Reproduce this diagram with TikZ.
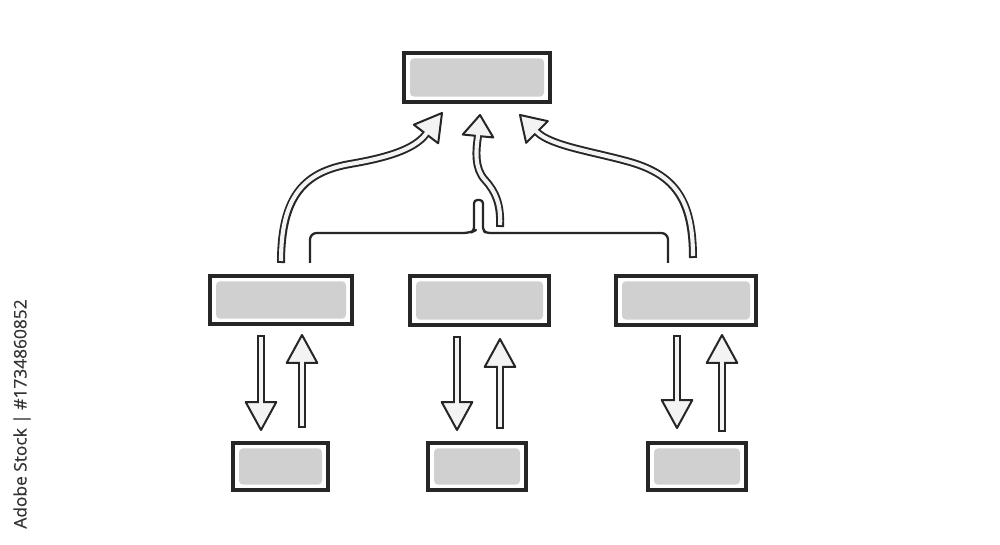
\documentclass[tikz,border=0pt]{standalone}
\usepackage{fontspec}
\setsansfont{Open Sans}
\newfontfamily\idfont[FakeBold=0.5]{Open Sans}
\usetikzlibrary{calc}
\definecolor{ink}{HTML}{262626}
\definecolor{scrib}{HTML}{D0D0D0}
\definecolor{alight}{HTML}{F3F3F3}
\definecolor{idtext}{HTML}{333333}
\newcommand\hollowarrow[3]{%
  \draw[ink, line width=6pt] #1;
  \filldraw[fill=alight, draw=ink, line width=1.5pt, line join=round] (#3) -- ($(#2)!11.5pt!90:(#3)$) -- ($(#2)!11.5pt!-90:(#3)$) -- cycle;
  \draw[alight, line width=3.1pt, shorten <=1.5pt] #1 -- ($(#2)!2.5pt!(#3)$);
}
\begin{document}
\begin{tikzpicture}[x=0.75pt,y=-0.75pt,
  sbox/.style 2 args={draw=ink, line width=2.6pt, fill=white, inner sep=0pt, outer sep=0pt,
    minimum width=#1, minimum height=#2,
    path picture={\fill[scrib, rounded corners=3pt]
      ([shift={(4.5pt,-4pt)}]path picture bounding box.north west) rectangle
      ([shift={(-4.5pt,4pt)}]path picture bounding box.south east);}},
  bracket/.style={draw=ink, line width=1.7pt, line join=round}
]
\fill[white] (0,0) rectangle (1000,545);
\useasboundingbox (0,0) rectangle (1000,545);

% boxes
\node[sbox={109.5pt}{36.75pt}] (top) at (477,77.5) {};
\node[sbox={106.5pt}{36pt}] (m1) at (281,300) {};
\node[sbox={104.25pt}{36.75pt}] (m2) at (479.5,300.5) {};
\node[sbox={105pt}{36.75pt}] (m3) at (686,300.5) {};
\node[sbox={71.25pt}{35.25pt}] (b1) at (280.5,466.5) {};
\node[sbox={73.5pt}{35.25pt}] (b2) at (477,466.5) {};
\node[sbox={73.5pt}{35.25pt}] (b3) at (697,466.5) {};

% vertical arrows, left pair
\coordinate (d1s) at ($(m1.south)+(-20,11)$);
\coordinate (d1t) at ($(b1.north)+(-19.5,-13)$);
\coordinate (d1b) at ($(d1t)+(0,-28)$);
\hollowarrow{(d1s) -- (d1b)}{d1b}{d1t}
\coordinate (u1s) at ($(b1.north)+(21.5,-15)$);
\coordinate (u1t) at ($(m1.south)+(21,11)$);
\coordinate (u1b) at ($(u1t)+(0,28)$);
\hollowarrow{(u1s) -- (u1b)}{u1b}{u1t}

% middle pair
\coordinate (d2s) at ($(m2.south)+(-22.5,11)$);
\coordinate (d2t) at ($(b2.north)+(-20,-13)$);
\coordinate (d2b) at ($(d2t)+(0,-28)$);
\hollowarrow{(d2s) -- (d2b)}{d2b}{d2t}
\coordinate (u2s) at ($(b2.north)+(23,-14)$);
\coordinate (u2t) at ($(m2.south)+(20.5,14)$);
\coordinate (u2b) at ($(u2t)+(0,28)$);
\hollowarrow{(u2s) -- (u2b)}{u2b}{u2t}

% right pair
\coordinate (d3s) at ($(m3.south)+(-9,10)$);
\coordinate (d3t) at ($(b3.north)+(-20,-15)$);
\coordinate (d3b) at ($(d3t)+(0,-28)$);
\hollowarrow{(d3s) -- (d3b)}{d3b}{d3t}
\coordinate (u3s) at ($(b3.north)+(25,-11)$);
\coordinate (u3t) at ($(m3.south)+(36,10)$);
\coordinate (u3b) at ($(u3t)+(0,28)$);
\hollowarrow{(u3s) -- (u3b)}{u3b}{u3t}

% bracket
\coordinate (bl) at ($(m1.north)+(29,-13)$);
\coordinate (br) at ($(m3.north)+(-18,-13)$);
\draw[bracket, rounded corners=5pt] (bl) -- (310,233) -- (470,233) [rounded corners=2.5pt] -- (474,231) -- (474,200) -- (483,200) -- (483,231) -- (487,233) [rounded corners=5pt] -- (668,233) -- (br);

% curved arrows to top
\coordinate (la0) at ($(m1.north)+(0,-13)$);
\coordinate (laT) at ($(top.south)+(-35,11)$);
\coordinate (laB) at ($(laT)+(-16,21)$);
\hollowarrow{(la0) .. controls (281,195) and (305,172) .. (350,164) .. controls (385,158) and (414,150) .. (laB)}{laB}{laT}

\coordinate (ca0) at ($(m2.north)+(20.5,-49)$);
\coordinate (caT) at ($(top.south)+(3,13)$);
\coordinate (caB) at ($(caT)+(-2,21)$);
\hollowarrow{(ca0) .. controls (501,205) and (496,192) .. (485,180) .. controls (474,168) and (476,150) .. (caB)}{caB}{caT}

\coordinate (ra0) at ($(m3.north)+(7,-18)$);
\coordinate (raT) at ($(top.south)+(43,13)$);
\coordinate (raB) at ($(raT)+(17,17)$);
\hollowarrow{(ra0) .. controls (693,200) and (675,175) .. (630,162) .. controls (595,152) and (551,146) .. (raB)}{raB}{raT}

% id text
\node[rotate=90, font=\idfont\fontsize{13}{15}\selectfont, text=idtext, inner sep=0pt] (id) at (22,414) {Adobe Stock | \#1734860852};
\end{tikzpicture}
\end{document}
